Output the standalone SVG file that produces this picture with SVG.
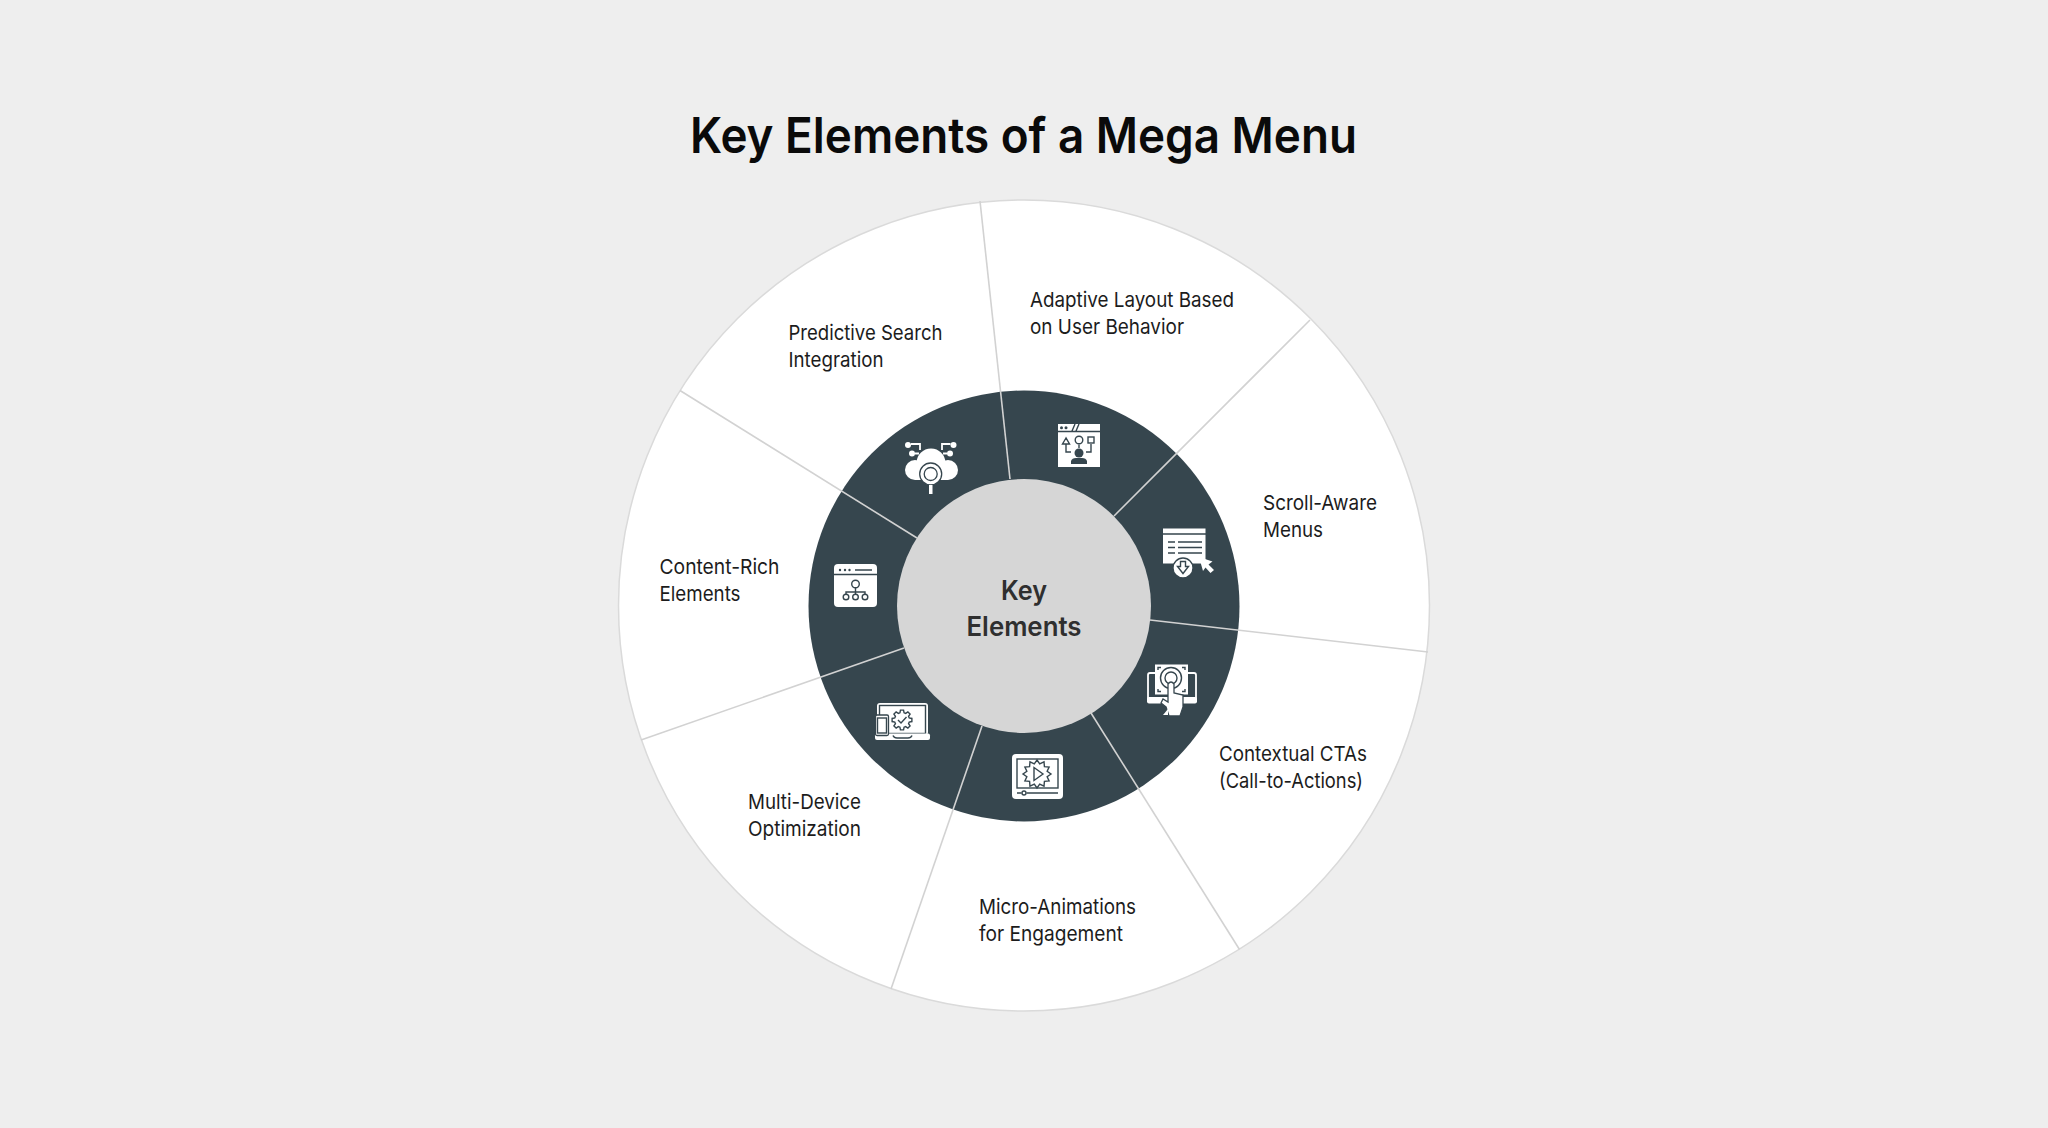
<svg xmlns="http://www.w3.org/2000/svg" width="2048" height="1128" viewBox="0 0 2048 1128">
<style>
text{font-family:"Inter","Liberation Sans",sans-serif}
.t{font-size:49px;font-weight:600;fill:#0a0a0a}
.l{font-size:20.5px;font-weight:400;fill:#1c1c1c}
.c{font-size:27px;font-weight:600;fill:#2f2f2f}
.s{stroke:#d2d2d2;stroke-width:1.6;fill:none}
.w{fill:#fff}
.d{fill:#36464e}
.dl{stroke:#36464e;stroke-width:1.4;fill:none}
.wl{stroke:#fff;stroke-width:1.8;fill:none}
.wd{fill:#fff;stroke:#36464e;stroke-width:1.3}
</style>
<rect width="2048" height="1128" fill="#eeeeee"/>
<text class="t" x="690" y="153" textLength="667" lengthAdjust="spacingAndGlyphs">Key Elements of a Mega Menu</text>
<circle id="ring-outer" cx="1024" cy="605.500" r="405.500" fill="#fff" stroke="#dadada" stroke-width="1.500"/>
<circle id="ring-dark" cx="1024" cy="606" r="215.500" fill="#36464e"/>
<g id="connectors">
<line class="s" x1="980" y1="201" x2="1010" y2="479"/>
<line class="s" x1="1310" y1="320" x2="1114" y2="516"/>
<line class="s" x1="1428" y1="652" x2="1150" y2="620"/>
<line class="s" x1="1239.500" y1="949.500" x2="1091" y2="713"/>
<line class="s" x1="891" y1="989" x2="982" y2="726"/>
<line class="s" x1="641" y1="740" x2="904" y2="648"/>
<line class="s" x1="680" y1="390.500" x2="917" y2="538"/>
</g>
<g id="center"><circle cx="1024" cy="606" r="127" fill="#d6d6d6"/>
<text class="c" x="1001" y="600" textLength="46" lengthAdjust="spacingAndGlyphs">Key</text><text class="c" x="966.500" y="636" textLength="115" lengthAdjust="spacingAndGlyphs">Elements</text></g>
<g id="node-adaptive"><text class="l" x="1030" y="306.500" textLength="204" lengthAdjust="spacingAndGlyphs">Adaptive Layout Based</text><text class="l" x="1030" y="333.500" textLength="154" lengthAdjust="spacingAndGlyphs">on User Behavior</text>
<rect class="w" x="1058" y="424" width="42" height="43"/>
<path class="dl" d="M1058 431.500H1100M1072 431L1075 424M1076 431L1079 424"/>
<circle class="d" cx="1061.500" cy="427.700" r="1.500"/><circle class="d" cx="1066" cy="427.700" r="1.500"/>
<path class="dl" d="M1066 438L1062.500 444H1069.500ZM1066 444V452H1071M1091 444V452H1086M1079 444.500V448"/>
<circle class="dl" cx="1079" cy="440" r="3.800"/><rect class="dl" x="1088" y="437" width="6" height="6"/>
<circle class="d" cx="1079" cy="453" r="4.500"/><path class="d" d="M1071 464V461Q1072 458 1076 458H1082Q1086 458 1087 461V464Z"/></g>
<g id="node-predictive"><text class="l" x="788.500" y="339.500" textLength="154" lengthAdjust="spacingAndGlyphs">Predictive Search</text><text class="l" x="788.500" y="366.500" textLength="95" lengthAdjust="spacingAndGlyphs">Integration</text>
<circle class="w" cx="915" cy="470" r="10"/><circle class="w" cx="948" cy="470" r="10"/><circle class="w" cx="931" cy="463" r="14.500"/><rect class="w" x="915" y="468" width="33" height="12"/>
<circle class="wd" cx="930.700" cy="474" r="11"/><circle class="wd" cx="930.700" cy="474" r="6.500"/>
<rect class="w" x="929" y="485" width="3.500" height="9"/>
<circle class="w" cx="908" cy="445" r="3"/><circle class="w" cx="912" cy="453.500" r="3"/><circle class="w" cx="953.500" cy="445" r="3"/><circle class="w" cx="950" cy="453.500" r="3"/>
<path class="wl" stroke-width="1.400" d="M911 444H920V450M915 453.500H919M950.500 444H942V450M947 453.500H943"/></g>
<g id="node-scroll"><text class="l" x="1263" y="509.500" textLength="114" lengthAdjust="spacingAndGlyphs">Scroll-Aware</text><text class="l" x="1263" y="536.500" textLength="60" lengthAdjust="spacingAndGlyphs">Menus</text>
<rect class="w" x="1163" y="528.500" width="42.500" height="35"/>
<path class="dl" d="M1163 534H1206M1168 542H1175M1178 542H1202M1168 547.500H1175M1178 547.500H1202M1168 553H1175M1178 553H1202"/>
<circle class="wd" cx="1183" cy="568" r="10"/>
<path class="dl" d="M1180.500 561.500H1185.500V566.500H1188.500L1183 573.500L1177.500 566.500H1180.500Z"/>
<path class="w" d="M1199 557L1212.500 561.500L1208.500 564.500L1214 570L1210.500 573L1205.500 567.500L1203 571Z"/></g>
<g id="node-cta"><text class="l" x="1219" y="760.500" textLength="148" lengthAdjust="spacingAndGlyphs">Contextual CTAs</text><text class="l" x="1219" y="787.500" textLength="144" lengthAdjust="spacingAndGlyphs">(Call-to-Actions)</text>
<path class="wl" stroke-width="2" d="M1155 673H1150Q1148 673 1148 675V700M1188 673H1194Q1196 673 1196 675V700"/>
<rect class="w" x="1147" y="697" width="50" height="6.500" rx="2"/>
<rect class="w" x="1155" y="664.500" width="33" height="30"/>
<circle class="dl" cx="1171" cy="678" r="10.500"/><circle class="dl" cx="1171" cy="678" r="6"/>
<path class="dl" d="M1158 670V667.500H1161M1185 670V667.500H1182M1158 689V691.500H1161M1185 689V691.500H1182"/>
<path class="wd" d="M1168 684Q1171 680 1174 684V693L1183 695V707L1180 716H1169L1166 707L1161 703L1163 699L1168 702Z"/>
<path class="w" d="M1163 715H1168V709Z"/></g>
<g id="node-micro"><text class="l" x="979" y="913.500" textLength="157" lengthAdjust="spacingAndGlyphs">Micro-Animations</text><text class="l" x="979" y="940.500" textLength="144" lengthAdjust="spacingAndGlyphs">for Engagement</text>
<rect class="w" x="1012" y="754" width="51" height="45" rx="4"/>
<rect class="dl" x="1017" y="759" width="41" height="29"/>
<path class="dl" d="M1017 793H1021.500M1026.500 793H1058"/><circle class="dl" cx="1024" cy="793" r="2"/>
<path class="dl" transform="translate(1037 774)" d="M0 -14L2.720 -10.140L7 -12.120L7.420 -7.420L12.120 -7L10.140 -2.720L14 0L10.140 2.720L12.120 7L7.420 7.420L7 12.120L2.720 10.140L0 14L-2.720 10.140L-7 12.120L-7.420 7.420L-12.120 7L-10.140 2.720L-14 0L-10.140 -2.720L-12.120 -7L-7.420 -7.420L-7 -12.120L-2.720 -10.140Z"/>
<path class="dl" d="M1034 767.500L1043 774L1034 780.500Z"/></g>
<g id="node-multi"><text class="l" x="748" y="808.500" textLength="113" lengthAdjust="spacingAndGlyphs">Multi-Device</text><text class="l" x="748" y="835.500" textLength="113" lengthAdjust="spacingAndGlyphs">Optimization</text>
<rect class="w" x="877" y="703" width="51" height="32" rx="3"/>
<rect class="dl" x="879.500" y="705.500" width="46" height="28"/>
<rect class="w" x="875" y="733.500" width="55" height="6.500" rx="2"/>
<path class="dl" d="M893 735.500Q894 738 897 738H908Q911 738 912 735.500"/>
<rect class="wd" x="875.500" y="715" width="13" height="20.500" rx="1.500"/>
<rect class="dl" x="877.500" y="718" width="9" height="15"/>
<path class="dl" transform="translate(902 720)" d="M-2.070 -7.210L-1.560 -9.880L1.560 -9.880L2.070 -7.210L3.640 -6.560L5.880 -8.090L8.090 -5.880L6.560 -3.640L7.210 -2.070L9.880 -1.560L9.880 1.560L7.210 2.070L6.560 3.640L8.090 5.880L5.880 8.090L3.640 6.560L2.070 7.210L1.560 9.880L-1.560 9.880L-2.070 7.210L-3.640 6.560L-5.880 8.090L-8.090 5.880L-6.560 3.640L-7.210 2.070L-9.880 1.560L-9.880 -1.560L-7.210 -2.070L-6.560 -3.640L-8.090 -5.880L-5.880 -8.090L-3.640 -6.560Z"/>
<path class="dl" d="M898 720L901 723L906.500 717"/></g>
<g id="node-content"><text class="l" x="659.500" y="573.500" textLength="120" lengthAdjust="spacingAndGlyphs">Content-Rich</text><text class="l" x="659.500" y="600.500" textLength="81" lengthAdjust="spacingAndGlyphs">Elements</text>
<rect class="w" x="834" y="564" width="43" height="43" rx="4"/>
<path class="dl" d="M834 574.500H877M855 570H872"/>
<circle class="d" cx="840" cy="570" r="1.200"/><circle class="d" cx="845" cy="570" r="1.200"/><circle class="d" cx="849.500" cy="570" r="1.200"/>
<circle class="dl" cx="855.500" cy="584" r="3.800"/>
<path class="dl" d="M855.500 588V592M846 595V592H865V595M855.500 592V595"/>
<circle class="dl" cx="846" cy="597" r="2.800"/><circle class="dl" cx="855.500" cy="597" r="2.800"/><circle class="dl" cx="865" cy="597" r="2.800"/></g>
</svg>
